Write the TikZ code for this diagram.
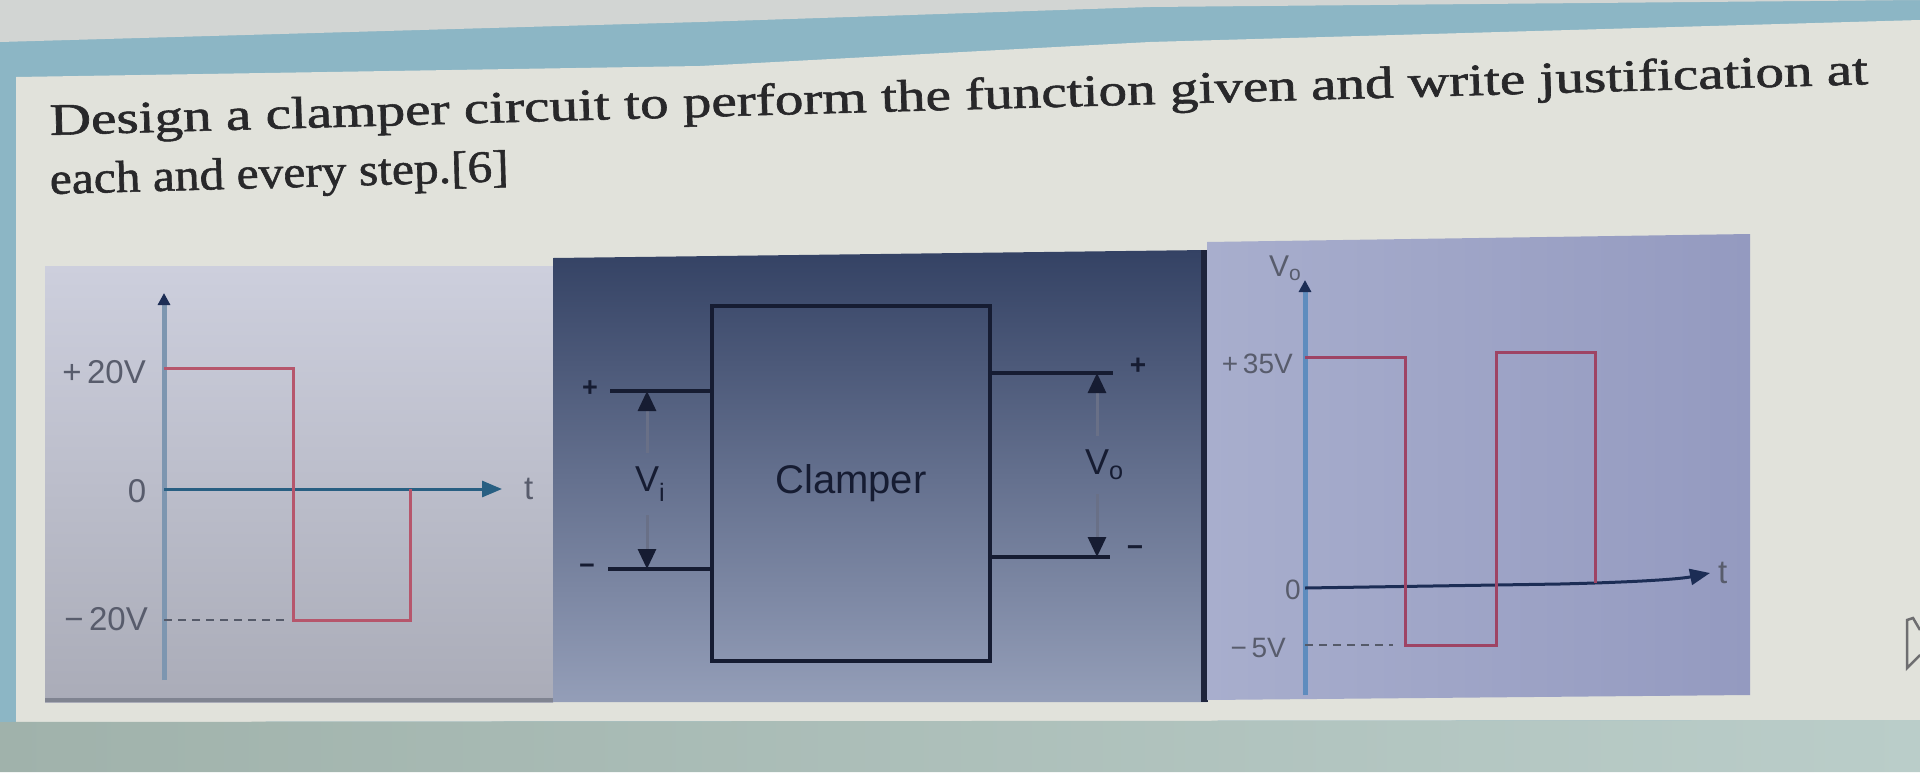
\documentclass[tikz,border=0pt]{standalone}
\usepackage{graphicx}
\usepackage{fontspec}
\setmainfont{Liberation Serif}
\setsansfont{Liberation Sans}
\newfontfamily\titlefont{Liberation Serif}[FakeBold=1.2]
\usetikzlibrary{arrows.meta,positioning,calc}

% colours of the photographed page
\definecolor{shotTop}{RGB}{210,213,211}
\definecolor{shotBand}{RGB}{140,182,197}
\definecolor{shotPaper}{RGB}{225,226,219}
\definecolor{shotFloorL}{RGB}{160,178,171}
\definecolor{shotFloorR}{RGB}{186,205,201}
\definecolor{titleInk}{RGB}{40,40,42}
\definecolor{leftTop}{RGB}{205,207,221}
\definecolor{leftBot}{RGB}{170,172,184}
\definecolor{leftRim}{RGB}{128,132,145}
\definecolor{midTop}{RGB}{52,66,100}
\definecolor{midBot}{RGB}{148,158,184}
\definecolor{midRim}{RGB}{30,36,60}
\definecolor{rightL}{RGB}{168,174,205}
\definecolor{rightR}{RGB}{148,154,192}
\definecolor{waveRed}{RGB}{182,86,108}
\definecolor{waveRedDark}{RGB}{158,68,100}
\definecolor{dashInk}{RGB}{85,90,105}
\definecolor{tickInk}{RGB}{88,92,108}
\definecolor{axisPale}{RGB}{125,150,176}
\definecolor{axisTeal}{RGB}{40,95,130}
\definecolor{axisSky}{RGB}{95,140,190}
\definecolor{axisNavy}{RGB}{28,45,85}
\definecolor{boxInk}{RGB}{22,28,50}
\definecolor{shaftGray}{RGB}{105,112,135}
\definecolor{cornerInk}{RGB}{110,110,112}

\begin{document}
\begin{tikzpicture}[x=1pt,y=-1pt,
    titleText/.style={anchor=base west,inner sep=0pt,rotate=1.6,text=titleInk,
      font=\titlefont\fontsize{45}{54}\selectfont},
    plotLabel/.style={inner sep=0pt,text=tickInk,font=\sffamily\fontsize{33}{40}\selectfont},
    sqWave/.style={draw=waveRed,line width=3pt,line join=miter},
    levelDash/.style={draw=dashInk,line width=2.5pt,dash pattern=on 8pt off 6pt},
    yAxis/.style={draw=axisPale,line width=5pt,-{Triangle[length=12pt,width=12pt,color=axisNavy]}},
    tAxis/.style={draw=axisTeal,line width=3pt,-{Triangle[length=20pt,width=16pt]}},
    clamperBox/.style={draw=boxInk,line width=4pt,minimum width=278pt,minimum height=355pt,
      text=boxInk,font=\sffamily\fontsize{40}{48}\selectfont},
    termLine/.style={draw=boxInk,line width=4pt},
    vArrow/.style={draw=shaftGray,line width=3pt,-{Triangle[length=20pt,width=18pt,color=boxInk]}},
    vLabel/.style={inner xsep=0pt,inner ysep=14pt,text=boxInk,font=\sffamily\fontsize{36}{42}\selectfont},
    pmSign/.style={inner sep=0pt,text=boxInk,font=\sffamily\bfseries\fontsize{28}{32}\selectfont},
    ]
    \useasboundingbox (0,0) rectangle (1920,772);

    % page, band and desk
    \fill[shotBand] (0,0) rectangle (1920,772);
    \fill[shotTop] (0,0) -- (1920,0) -- (1150,7) -- (700,22) -- (0,42) -- cycle;
    \fill[shotPaper] (16,77) -- (700,66) -- (1150,42) -- (1920,20) -- (1920,720) -- (16,722) -- cycle;
    \shade[left color=shotFloorL,right color=shotFloorR] (0,722) -- (1920,720) -- (1920,772) -- (0,772) -- cycle;

    \node[titleText] (line1) at (50,135) {\scalebox{1.27}[1]{Design a clamper circuit to perform the function given and write justification at}};
    \node[titleText] (line2) at (50,194) {\scalebox{1.1}[1]{each and every step.[6]}};

    % three panels
    \shade[top color=leftTop,bottom color=leftBot] (45,266) rectangle (553,702);
    \draw[line width=4pt,leftRim] (45,700) -- (553,700);
    \shade[top color=midTop,bottom color=midBot] (553,258) -- (1207,250) -- (1207,702) -- (553,702) -- cycle;
    \draw[line width=7pt,midRim] (1204,250) -- (1204,702);
    \shade[left color=rightL,right color=rightR] (1207,242) -- (1750,234) -- (1750,695) -- (1207,700) -- cycle;

    % input waveform
    \draw[yAxis] (164,680) -- (164,293);
    \draw[tAxis] (164,489) -- (502,489) coordinate (lt);
    \draw[levelDash] (164,620) -- (284,620);
    \draw[sqWave] (164,368) -- (293,368) -- (293,620) -- (410,620) -- (410,489);
    \node[plotLabel,anchor=west] (ltLabel) at ([xshift=22pt]lt) {t};
    \node[plotLabel,anchor=east] (lp20) at (146,372) {+\,20V};
    \node[plotLabel] (lz) at (137,491) {0};
    \node[plotLabel,anchor=east] (lm20) at (148,619) {−\,20V};

    % clamper block
    \node[clamperBox] (clamper) at (851,483) {Clamper};
    \coordinate (inTop) at (610,391);
    \coordinate (inBot) at (608,569);
    \coordinate (outTop) at (1113,373);
    \coordinate (outBot) at (1110,557);
    \draw[termLine] (inTop) -- (inTop -| clamper.west);
    \draw[termLine] (inBot) -- (inBot -| clamper.west);
    \draw[termLine] (outTop -| clamper.east) -- (outTop);
    \draw[termLine] (outBot -| clamper.east) -- (outBot);
    \node[vLabel] (vi) at (647,484) {V\rlap{\textsubscript{i}}};
    \draw[vArrow] (vi.north) -- (vi.north |- inTop);
    \draw[vArrow] (vi.south) -- (vi.south |- inBot);
    \node[vLabel] (vo) at (1097,465) {V\rlap{\textsubscript{o}}};
    \draw[vArrow] (vo.north) -- (vo.north |- outTop);
    \draw[vArrow] (vo.south) -- (vo.south |- outBot);
    \node[pmSign,font=\sffamily\bfseries\fontsize{27}{30}\selectfont] (ip) at (590,389) {+};
    \node[pmSign,font=\sffamily\bfseries\fontsize{27}{30}\selectfont] (im) at (587,569) {−};
    \node[pmSign] (op) at (1138,366) {+};
    \node[pmSign] (om) at (1135,551) {−};

    % output waveform
    \draw[yAxis,draw=axisSky] (1305,695) -- (1305,280);
    \draw[tAxis,draw=axisNavy] (1305,588) -- (1560,584) .. controls (1640,582) and (1680,579) .. (1710,573) coordinate (rt);
    \draw[levelDash] (1305,645) -- (1393,645);
    \draw[sqWave,draw=waveRedDark] (1305,357) -- (1405,357) -- (1405,645) -- (1496,645) -- (1496,352) -- (1595,352) -- (1595,583);
    \node[plotLabel,anchor=west] (rtLabel) at ([xshift=8pt]rt) {t};
    \node[plotLabel,font=\sffamily\fontsize{30}{36}\selectfont] (rvo) at (1279,268) {V\rlap{\textsubscript{o}}};
    \node[plotLabel,anchor=east,font=\sffamily\fontsize{28}{34}\selectfont] (rp35) at (1293,364) {+\,35V};
    \node[plotLabel,font=\sffamily\fontsize{28}{34}\selectfont] (rz) at (1293,590) {0};
    \node[plotLabel,anchor=east,font=\sffamily\fontsize{28}{34}\selectfont] (rm5) at (1286,648) {−\,5V};

    % cut-off icon at the right edge
    \draw[line width=2.5pt,cornerInk] (1920,630) -- (1913,618) -- (1907,620) -- (1907,668) -- (1920,655);
\end{tikzpicture}
\end{document}
